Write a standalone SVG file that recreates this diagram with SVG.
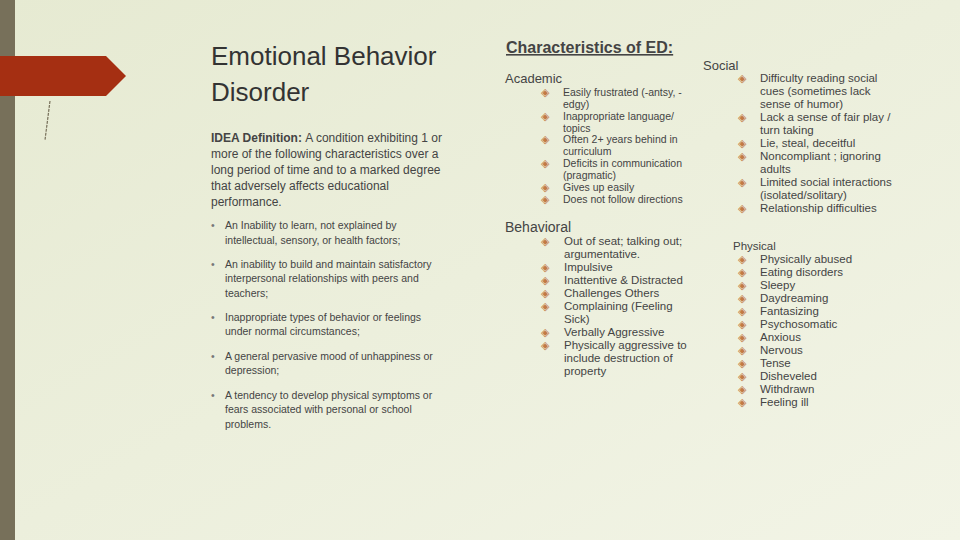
<svg xmlns="http://www.w3.org/2000/svg" width="960" height="540" viewBox="0 0 960 540">
<defs>
<linearGradient id="bg" x1="0" y1="0" x2="1" y2="1"><stop offset="0" stop-color="#e6ead2"/><stop offset="1" stop-color="#f2f4e6"/></linearGradient>
<style>
text{font-family:"Liberation Sans",Arial,sans-serif;fill:#444}
.t{font-size:26px;fill:#333}
.b{font-size:11.5px}
.s{font-size:10.5px}
.h{font-size:13px}
.d{font-family:"DejaVu Sans",sans-serif;font-size:11px;fill:#c27a45}
.g{fill:#777}
</style>
</defs>
<rect width="960" height="540" fill="url(#bg)"/>
<rect x="0" y="0" width="15" height="540" fill="#77705a"/>
<line x1="50" y1="101" x2="45" y2="140" stroke="#77705a" stroke-width="1.2" stroke-dasharray="3,1"/>
<polygon points="0,56 106,56 126,76 106,96 0,96" fill="#a52f12"/>
<g id="left">
<text class="t" x="211" y="65">Emotional Behavior</text>
<text class="t" x="211" y="101">Disorder</text>
<text style="font-size:12px" x="211" y="142"><tspan font-weight="bold">IDEA Definition: </tspan>A condition exhibiting 1 or</text>
<text style="font-size:12px" x="211" y="158">more of the following characteristics over a</text>
<text style="font-size:12px" x="211" y="174">long period of time and to a marked degree</text>
<text style="font-size:12px" x="211" y="190">that adversely affects educational</text>
<text style="font-size:12px" x="211" y="206">performance.</text>
<text class="s g" x="211" y="229">•</text><text class="s" x="225" y="229">An Inability to learn, not explained by</text>
<text class="s" x="225" y="244">intellectual, sensory, or health factors;</text>
<text class="s g" x="211" y="268">•</text><text class="s" x="225" y="268">An inability to build and maintain satisfactory</text>
<text class="s" x="225" y="282">interpersonal relationships with peers and</text>
<text class="s" x="225" y="297">teachers;</text>
<text class="s g" x="211" y="321">•</text><text class="s" x="225" y="321">Inappropriate types of behavior or feelings</text>
<text class="s" x="225" y="335">under normal circumstances;</text>
<text class="s g" x="211" y="360">•</text><text class="s" x="225" y="360">A general pervasive mood of unhappiness or</text>
<text class="s" x="225" y="374">depression;</text>
<text class="s g" x="211" y="399">•</text><text class="s" x="225" y="399">A tendency to develop physical symptoms or</text>
<text class="s" x="225" y="413">fears associated with personal or school</text>
<text class="s" x="225" y="428">problems.</text>
</g>
<g id="mid">
<text x="506" y="53" style="font-size:16px;font-weight:bold;text-decoration:underline">Characteristics of ED:</text>
<text class="h" x="505" y="83">Academic</text>
<text class="d" x="541" y="96">◈</text><text class="s" x="563" y="96">Easily frustrated (-antsy, -</text>
<text class="s" x="563" y="108">edgy)</text>
<text class="d" x="541" y="120">◈</text><text class="s" x="563" y="120">Inappropriate language/</text>
<text class="s" x="563" y="132">topics</text>
<text class="d" x="541" y="143">◈</text><text class="s" x="563" y="143">Often 2+ years behind in</text>
<text class="s" x="563" y="155">curriculum</text>
<text class="d" x="541" y="167">◈</text><text class="s" x="563" y="167">Deficits in communication</text>
<text class="s" x="563" y="179">(pragmatic)</text>
<text class="d" x="541" y="191">◈</text><text class="s" x="563" y="191">Gives up easily</text>
<text class="d" x="541" y="203">◈</text><text class="s" x="563" y="203">Does not follow directions</text>
<text class="h" x="505" y="232" style="font-size:14px">Behavioral</text>
<text class="d" x="541" y="245">◈</text><text class="b" x="564" y="245">Out of seat; talking out;</text>
<text class="b" x="564" y="258">argumentative.</text>
<text class="d" x="541" y="271">◈</text><text class="b" x="564" y="271">Impulsive</text>
<text class="d" x="541" y="284">◈</text><text class="b" x="564" y="284">Inattentive &amp; Distracted</text>
<text class="d" x="541" y="297">◈</text><text class="b" x="564" y="297">Challenges Others</text>
<text class="d" x="541" y="310">◈</text><text class="b" x="564" y="310">Complaining (Feeling</text>
<text class="b" x="564" y="323">Sick)</text>
<text class="d" x="541" y="336">◈</text><text class="b" x="564" y="336">Verbally Aggressive</text>
<text class="d" x="541" y="349">◈</text><text class="b" x="564" y="349">Physically aggressive to</text>
<text class="b" x="564" y="362">include destruction of</text>
<text class="b" x="564" y="375">property</text>
</g>
<g id="right">
<text class="h" x="703" y="70">Social</text>
<text class="d" x="738" y="82">◈</text><text class="b" x="760" y="82">Difficulty reading social</text>
<text class="b" x="760" y="95">cues (sometimes lack</text>
<text class="b" x="760" y="108">sense of humor)</text>
<text class="d" x="738" y="121">◈</text><text class="b" x="760" y="121">Lack a sense of fair play /</text>
<text class="b" x="760" y="134">turn taking</text>
<text class="d" x="738" y="147">◈</text><text class="b" x="760" y="147">Lie, steal, deceitful</text>
<text class="d" x="738" y="160">◈</text><text class="b" x="760" y="160">Noncompliant ; ignoring</text>
<text class="b" x="760" y="173">adults</text>
<text class="d" x="738" y="186">◈</text><text class="b" x="760" y="186">Limited social interactions</text>
<text class="b" x="760" y="199">(isolated/solitary)</text>
<text class="d" x="738" y="212">◈</text><text class="b" x="760" y="212">Relationship difficulties</text>
<text class="b" x="733" y="250">Physical</text>
<text class="d" x="738" y="263">◈</text><text class="b" x="760" y="263">Physically abused</text>
<text class="d" x="738" y="276">◈</text><text class="b" x="760" y="276">Eating disorders</text>
<text class="d" x="738" y="289">◈</text><text class="b" x="760" y="289">Sleepy</text>
<text class="d" x="738" y="302">◈</text><text class="b" x="760" y="302">Daydreaming</text>
<text class="d" x="738" y="315">◈</text><text class="b" x="760" y="315">Fantasizing</text>
<text class="d" x="738" y="328">◈</text><text class="b" x="760" y="328">Psychosomatic</text>
<text class="d" x="738" y="341">◈</text><text class="b" x="760" y="341">Anxious</text>
<text class="d" x="738" y="354">◈</text><text class="b" x="760" y="354">Nervous</text>
<text class="d" x="738" y="367">◈</text><text class="b" x="760" y="367">Tense</text>
<text class="d" x="738" y="380">◈</text><text class="b" x="760" y="380">Disheveled</text>
<text class="d" x="738" y="393">◈</text><text class="b" x="760" y="393">Withdrawn</text>
<text class="d" x="738" y="406">◈</text><text class="b" x="760" y="406">Feeling ill</text>
</g>
</svg>
